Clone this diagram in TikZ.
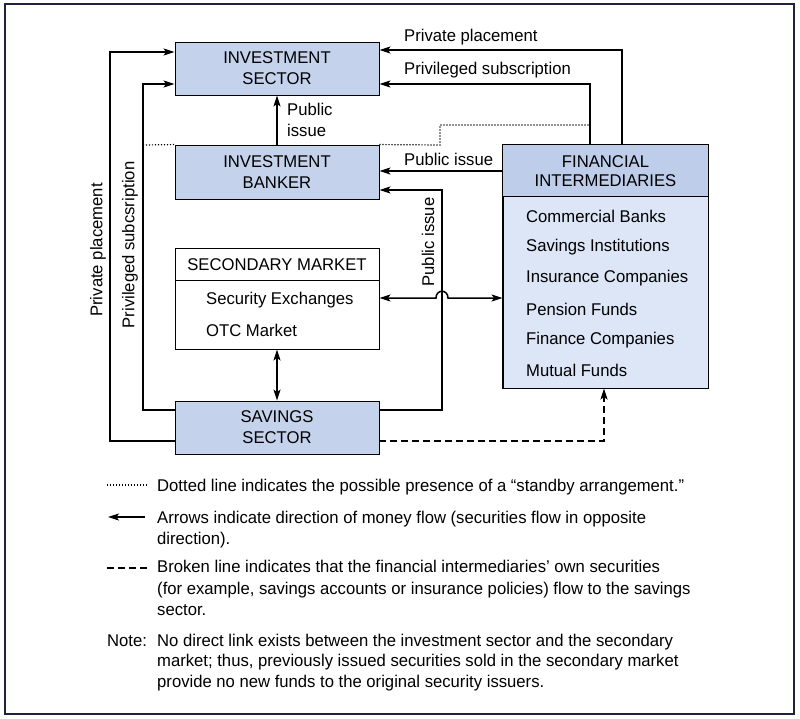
\documentclass[tikz,border=0pt]{standalone}
\usepackage{fontspec}
\setmainfont{Liberation Sans}[FakeStretch=0.98]
\usetikzlibrary{arrows.meta}
\definecolor{boxblue}{RGB}{196,210,236}
\definecolor{fihead}{RGB}{190,205,233}
\definecolor{fibody}{RGB}{220,230,246}
\definecolor{frame}{RGB}{30,34,60}
\begin{document}
\begin{tikzpicture}[x=1pt,y=-1pt,
  box/.style={draw=black, line width=0.9pt, fill=boxblue, minimum width=204pt, inner sep=0pt, align=center, font=\fontsize{17}{21}\selectfont},
  lbl/.style={inner sep=0pt, font=\fontsize{17}{21}\selectfont},
  tip/.tip={Stealth[length=11pt,width=7pt,inset=2.5pt]},
  conn/.style={line width=1.5pt, -tip},
  both/.style={line width=1.5pt, tip-tip},
  dotline/.style={line width=1.2pt, dash pattern=on 1.2pt off 1.8pt},
  dashline/.style={line width=1.7pt, dash pattern=on 7pt off 4pt}]
\useasboundingbox (0,0) rectangle (800,718);
\draw[frame, line width=1.5pt] (5,4) rectangle (794,714);

% boxes
\node[box, minimum height=53pt] (is) at (277,68.5) {INVESTMENT\\SECTOR};
\node[box, minimum height=54pt] (ib) at (277,172) {INVESTMENT\\BANKER};
\node[box, minimum height=101pt, fill=white] (sm) at (277,298.5) {};
\node[box, minimum height=53pt] (ss) at (277,427.5) {SAVINGS\\SECTOR};
\node[box, minimum width=205pt, minimum height=243pt, fill=fibody] (fi) at (605.5,266.5) {};
\fill[fihead] (fi.north west) rectangle (fi.east |- 0,196);
\draw[line width=0.9pt] (fi.north west) rectangle (fi.south east);
\draw[line width=0.9pt] (fi.west |- 0,196) -- (fi.east |- 0,196);
\draw[line width=0.9pt] (sm.west |- 0,280) -- (sm.east |- 0,280);

\node[lbl, align=center, font=\fontsize{17}{19.5}\selectfont] (fit) at (605.5,171) {FINANCIAL\\INTERMEDIARIES};
\node[lbl, anchor=west] (fi1) at (526,216) {Commercial Banks};
\node[lbl, anchor=west] (fi2) at (526,247) {Savings Institutions};
\node[lbl, anchor=west] (fi3) at (526,278) {Insurance Companies};
\node[lbl, anchor=west] (fi4) at (526,309) {Pension Funds};
\node[lbl, anchor=west] (fi5) at (526,340) {Finance Companies};
\node[lbl, anchor=west] (fi6) at (526,370) {Mutual Funds};

\node[lbl] (smt) at (277,265) {SECONDARY MARKET};
\node[lbl, anchor=west] (sm1) at (206,300) {Security Exchanges};
\node[lbl, anchor=west] (sm2) at (206,330) {OTC Market};

% left connectors
\draw[conn] (ss.west |- 0,441) -- (110,441) -- (110,52) -- (is.west |- 0,52);
\draw[conn] (ss.west |- 0,410) -- (143,410) -- (143,84) -- (is.west |- 0,84);
\node[lbl, rotate=90] (lpp) at (98,250) {Private placement};
\node[lbl, rotate=90] (lps) at (130,245) {Privileged subcsription};

% right connectors to investment sector
\draw[conn] (fi.north -| 622,0) -- (622,50) -- (is.east |- 0,50);
\draw[conn] (fi.north -| 590,0) -- (590,84) -- (is.east |- 0,84);
\node[lbl, anchor=west] (rpp) at (404,37) {Private placement};
\node[lbl, anchor=west] (rps) at (404,70) {Privileged subscription};

% public issue banker -> sector
\draw[conn] (ib.north) -- (is.south);
\node[lbl, anchor=west, align=left] (pi1) at (287,120) {Public\\issue};

% public issue FI -> banker
\draw[conn] (fi.west |- 0,171) -- (ib.east |- 0,171);
\node[lbl, anchor=west] (pi2) at (404,159) {Public issue};

% public issue savings -> banker
\draw[conn] (ss.east |- 0,410) -- (442,410) -- (442,190) -- (ib.east |- 0,190);
\node[lbl, rotate=90] (pi3) at (428,242) {Public issue};

% secondary market <-> FI with hop
\draw[both] (sm.east |- 0,298) -- (436,298) .. controls (436,289) and (448,289) .. (448,298) -- (fi.west |- 0,298);
% secondary market <-> savings
\draw[both] (sm.south) -- (ss.north);

% dashed savings -> FI
\draw[dashline, -tip] (ss.east |- 0,441) -- (604,441) -- (fi.south -| 604,0);

% dotted standby
\draw[dotline] (143,145) -- (ib.north west);
\draw[dotline] (ib.north east) -- (440,145) -- (440,125) -- (590,125);

% legend
\coordinate (d1) at (107,485); \coordinate (d2) at (147,485);
\draw[dotline] (d1) -- (d2);
\node[lbl, anchor=base west] (t1) at (157,491) {Dotted line indicates the possible presence of a “standby arrangement.”};
\coordinate (a1) at (108,517); \coordinate (a2) at (145,517);
\draw[conn] (a2) -- (a1);
\node[lbl, anchor=base west] (t2) at (157,523) {Arrows indicate direction of money flow (securities flow in opposite};
\node[lbl, anchor=base west] (t3) at (157,544) {direction).};
\coordinate (b1) at (107,568); \coordinate (b2) at (147,568);
\draw[dashline] (b1) -- (b2);
\node[lbl, anchor=base west] (t4) at (157,572) {Broken line indicates that the financial intermediaries’ own securities};
\node[lbl, anchor=base west] (t5) at (157,594) {(for example, savings accounts or insurance policies) flow to the savings};
\node[lbl, anchor=base west] (t6) at (157,615) {sector.};
\node[lbl, anchor=base west] (t7) at (107,646) {Note:};
\node[lbl, anchor=base west] (t8) at (157,646) {No direct link exists between the investment sector and the secondary};
\node[lbl, anchor=base west] (t9) at (157,666) {market; thus, previously issued securities sold in the secondary market};
\node[lbl, anchor=base west] (t10) at (157,687) {provide no new funds to the original security issuers.};
\end{tikzpicture}
\end{document}
